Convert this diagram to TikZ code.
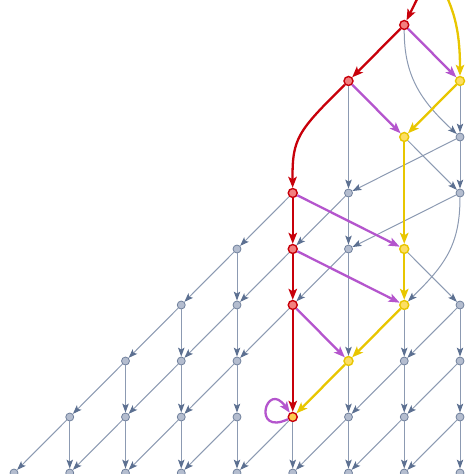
\documentclass[tikz,border=0pt]{standalone}
\usetikzlibrary{arrows.meta}
\definecolor{gedge}{RGB}{140,154,178}
\definecolor{garrow}{RGB}{92,112,145}
\definecolor{gfill}{RGB}{180,189,207}
\definecolor{gline}{RGB}{112,128,156}
\definecolor{redE}{RGB}{200,0,10}
\definecolor{redF}{RGB}{242,128,128}
\definecolor{yelE}{RGB}{232,198,0}
\definecolor{yelF}{RGB}{252,222,100}
\definecolor{purE}{RGB}{180,85,205}
\tikzset{
  gnode/.style={circle,minimum size=8pt,inner sep=0pt,fill=gfill,draw=gline,line width=0.8pt},
  rnode/.style={circle,minimum size=9pt,inner sep=0pt,fill=redF,draw=redE,line width=1.4pt},
  ynode/.style={circle,minimum size=9pt,inner sep=0pt,fill=yelF,draw=yelE,line width=1.4pt},
  rynode/.style={circle,minimum size=9pt,inner sep=0pt,fill=yelF!80!orange,draw=redE,line width=1.4pt},
  gedge/.style={draw=gedge,line width=1pt,-{Stealth[length=9pt,width=6.5pt,inset=2pt,color=garrow]}},
  redge/.style={draw=redE,line width=2.3pt,-{Stealth[length=11pt,width=8.5pt,inset=2.5pt]}},
  yedge/.style={draw=yelE,line width=2.3pt,-{Stealth[length=11pt,width=8.5pt,inset=2.5pt]}},
  pedge/.style={draw=purE,line width=2.3pt,-{Stealth[length=11pt,width=8.5pt,inset=2.5pt]}},
}
\newcommand{\gx}[1]{14+55.75*#1}
\newcommand{\gy}[1]{25+56*#1}
\newcommand{\mk}[3]{\node[#3] (p#1#2) at ({\gx{#1}},{\gy{#2}}) {};}
\begin{document}
\begin{tikzpicture}[x=1pt,y=-1pt]
\useasboundingbox (0,0) rectangle (474,474);
\coordinate (root) at (432,-31);
% row 0
\mk{7}{0}{rnode}
% row 1
\mk{6}{1}{rnode} \mk{8}{1}{ynode}
% row 2
\mk{7}{2}{ynode} \mk{8}{2}{gnode}
% row 3
\mk{5}{3}{rnode} \mk{6}{3}{gnode} \mk{8}{3}{gnode}
% row 4
\mk{4}{4}{gnode} \mk{5}{4}{rnode} \mk{6}{4}{gnode} \mk{7}{4}{ynode}
% row 5
\mk{3}{5}{gnode} \mk{4}{5}{gnode} \mk{5}{5}{rnode} \mk{7}{5}{ynode} \mk{8}{5}{gnode}
% row 6
\mk{2}{6}{gnode} \mk{3}{6}{gnode} \mk{4}{6}{gnode} \mk{6}{6}{ynode} \mk{7}{6}{gnode} \mk{8}{6}{gnode}
% row 7
\mk{1}{7}{gnode} \mk{2}{7}{gnode} \mk{3}{7}{gnode} \mk{4}{7}{gnode} \mk{5}{7}{rynode} \mk{6}{7}{gnode} \mk{7}{7}{gnode} \mk{8}{7}{gnode}
% row 8
\mk{0}{8}{gnode} \mk{1}{8}{gnode} \mk{2}{8}{gnode} \mk{3}{8}{gnode} \mk{4}{8}{gnode} \mk{5}{8}{gnode} \mk{6}{8}{gnode} \mk{7}{8}{gnode} \mk{8}{8}{gnode}
% gray edges
\draw[gedge] (p70) .. controls (404,75) and (420,100) .. (p82);
\draw[gedge] (p81) -- (p82);
\draw[gedge] (p61) -- (p63);
\draw[gedge] (p72) -- (p83);
\draw[gedge] (p82) -- (p83);
\draw[gedge] (p82) -- (p63);
\draw[gedge] (p53) -- (p44);
\draw[gedge] (p63) -- (p54);
\draw[gedge] (p63) -- (p64);
\draw[gedge] (p83) -- (p64);
\draw[gedge] (p83) .. controls (460,245) and (445,265) .. (p75);
\draw[gedge] (p54) -- (p45);
\draw[gedge] (p64) -- (p55);
\draw[gedge] (p64) -- (p66);
\draw[gedge] (p44) -- (p45);
\draw[gedge] (p44) -- (p35);
\draw[gedge] (p74) -- (p85);
\draw[gedge] (p85) -- (p76);
\draw[gedge] (p85) -- (p86);
\draw[gedge] (p75) -- (p76);
\draw[gedge] (p55) -- (p46);
\draw[gedge] (p45) -- (p46);
\draw[gedge] (p45) -- (p36);
\draw[gedge] (p35) -- (p36);
\draw[gedge] (p35) -- (p26);
\draw[gedge] (p66) -- (p67);
\draw[gedge] (p57) -- (p48);
\draw[gedge] (p57) -- (p58);
\draw[gedge] (p76) -- (p67);
\draw[gedge] (p76) -- (p77);
\draw[gedge] (p86) -- (p77);
\draw[gedge] (p86) -- (p87);
\draw[gedge] (p67) -- (p58);
\draw[gedge] (p67) -- (p68);
\draw[gedge] (p77) -- (p68);
\draw[gedge] (p77) -- (p78);
\draw[gedge] (p87) -- (p78);
\draw[gedge] (p87) -- (p88);
\draw[gedge] (p46) -- (p37);
\draw[gedge] (p46) -- (p47);
\draw[gedge] (p47) -- (p38);
\draw[gedge] (p47) -- (p48);
\draw[gedge] (p36) -- (p27);
\draw[gedge] (p36) -- (p37);
\draw[gedge] (p26) -- (p17);
\draw[gedge] (p26) -- (p27);
\draw[gedge] (p37) -- (p28);
\draw[gedge] (p37) -- (p38);
\draw[gedge] (p27) -- (p18);
\draw[gedge] (p27) -- (p28);
\draw[gedge] (p17) -- (p08);
\draw[gedge] (p17) -- (p18);
% purple edges
\draw[pedge] (p70) -- (p81);
\draw[pedge] (p61) -- (p72);
\draw[pedge] (p53) -- (p74);
\draw[pedge] (p54) -- (p75);
\draw[pedge] (p55) -- (p66);
\draw[pedge] (p57) .. controls +(205:46pt) and +(125:46pt) .. (p57);
% yellow edges
\draw[yedge] (root) .. controls (450,0) and (460,20) .. (p81);
\draw[yedge] (p81) -- (p72);
\draw[yedge] (p72) -- (p74);
\draw[yedge] (p74) -- (p75);
\draw[yedge] (p75) -- (p66);
\draw[yedge] (p66) -- (p57);
% red edges
\draw[redge] (root) -- (p70);
\draw[redge] (p70) -- (p61);
\draw[redge] (p61) .. controls (298,131) and (292,138) .. (p53);
\draw[redge] (p53) -- (p54);
\draw[redge] (p54) -- (p55);
\draw[redge] (p55) -- (p57);
\end{tikzpicture}
\end{document}
